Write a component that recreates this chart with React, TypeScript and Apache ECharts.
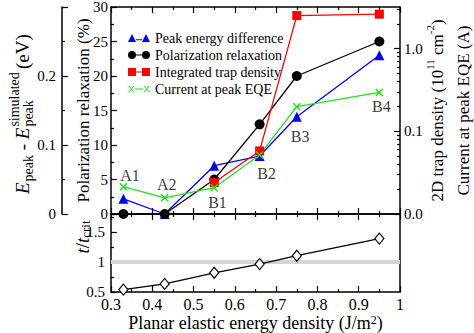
import React, { useEffect, useRef } from 'react';
import * as echarts from 'echarts';

const FONT = 'Liberation Serif';

// Planar elastic energy density (J/m^2) of the samples
const energyDensity = [0.33, 0.43, 0.55, 0.66, 0.75, 0.95];
// Peak energy difference (eV) — outer left axis
const peakEnergyDifference = [0.022, 0, 0.07, 0.084, 0.141, 0.23];
// Polarization relaxation (%) — main left axis
const polarizationRelaxation = [0, 0, 5, 13, 20, 25];
// Integrated 2D trap density (1e11 cm^-2) — right log axis
const integratedTrapDensity: (number | null)[] = [null, null, 0.024, 0.058, 2.52, 2.62];
// Current at peak EQE (A) — right log axis
const currentAtPeakEQE = [0.0214, 0.0157, 0.0208, 0.0518, 0.199, 0.296];
// t / t_crit — lower panel
const thicknessRatio = [0.54, 0.635, 0.82, 0.965, 1.105, 1.39];
const criticalRatio = 1;

const sampleNames = ['A1', 'A2', 'B1', 'B2', 'B3', 'B4'];
const sampleLabelX = [0.346, 0.435, 0.558, 0.677, 0.758, 0.955];
const sampleLabelY = [5.65, 4.3, 1.6, 5.9, 11.3, 15.65];

const seriesNames = [
  'Peak energy difference',
  'Polarization relaxation',
  'Integrated trap density',
  'Current at peak EQE',
];
const seriesColors = ['#0000ee', '#000000', '#ff0000', '#22dd22'];

const legendIcons = [
  'path://M0,8L4,0L8,8Z M8,5.2H14V6.2H8Z M14,8L18,0L22,8Z',
  'path://M0,4A4,4,0,1,1,8,4A4,4,0,1,1,0,4Z M8,3.5H14V4.5H8Z M14,4A4,4,0,1,1,22,4A4,4,0,1,1,14,4Z',
  'path://M0,0H8V8H0Z M8,3.5H14V4.5H8Z M14,0H22V8H14Z',
  'path://M1,1L2,1L7,7L6,7Z M6,1L7,1L2,7L1,7Z M7,3.5H15V4.5H7Z M15,1L16,1L21,7L20,7Z M20,1L21,1L16,7L15,7Z',
];

const LOG_MIN = 0.01;
const LOG_MAX = 3.2;
const logMinorTicks: number[] = [];
for (let d = -2; d <= 0; d++) {
  for (let k = 2; k <= 9; k++) {
    const v = k * Math.pow(10, d);
    if (v <= LOG_MAX) logMinorTicks.push(Math.log10(v));
  }
}

const pairs = (ys: (number | null)[]) =>
  energyDensity.map((x, i) => [x, ys[i] == null ? '-' : ys[i]]);

const axisLine = { show: true, onZero: false, lineStyle: { color: '#000', width: 1.5 } };
const tick = { show: true, inside: true, length: 6, lineStyle: { color: '#000', width: 1.2 } };
const minor = { show: true, splitNumber: 2, length: 3, lineStyle: { color: '#000', width: 1.2 } };
const lbl = { color: '#000', fontFamily: FONT, fontSize: 15 };

export default function App() {
  const ref = useRef<HTMLDivElement>(null);
  useEffect(() => {
    if (!ref.current) return;
    const chart = echarts.init(ref.current, undefined, { renderer: 'svg' });
    const xBase = {
      type: 'value',
      min: 0.3,
      max: 1,
      interval: 0.1,
      axisLine,
      axisTick: tick,
      minorTick: minor,
      splitLine: { show: false },
    };
    const option: any = {
      animation: false,
      backgroundColor: '#fff',
      textStyle: { fontFamily: FONT },
      grid: [
        { left: 111, right: 74, top: 7, height: 207, containLabel: false, outerBoundsMode: 'none' },
        { left: 111, right: 74, top: 214, height: 78, containLabel: false, outerBoundsMode: 'none' },
      ],
      legend: {
        orient: 'vertical',
        left: 123,
        top: 26,
        itemWidth: 22,
        itemHeight: 8,
        itemGap: 3,
        selectedMode: false,
        itemStyle: { borderWidth: 0 },
        textStyle: { color: '#000', fontFamily: FONT, fontSize: 14 },
        data: seriesNames.map((n, i) => ({ name: n, icon: legendIcons[i] })),
      },
      xAxis: [
        { ...xBase, gridIndex: 0, position: 'bottom', axisLabel: { show: false } },
        { ...xBase, gridIndex: 0, position: 'top', axisLabel: { show: false } },
        {
          ...xBase,
          gridIndex: 1,
          position: 'bottom',
          axisLabel: { ...lbl, fontSize: 16, margin: 7, lineHeight: 10, showMinLabel: true },
          name: 'Planar elastic energy density (J/m{sup|2})',
          nameLocation: 'middle',
          nameGap: 22,
          nameMoveOverlap: false,
          nameTextStyle: {
            color: '#000',
            fontFamily: FONT,
            fontSize: 18,
            rich: { sup: { fontFamily: FONT, fontSize: 12, verticalAlign: 'top', color: '#000' } },
          },
        },
        { ...xBase, gridIndex: 1, position: 'top', axisLabel: { show: false } },
      ],
      yAxis: [
        {
          type: 'value',
          gridIndex: 0,
          position: 'left',
          min: 0,
          max: 30,
          interval: 5,
          axisLine,
          axisTick: tick,
          minorTick: minor,
          splitLine: { show: false },
          axisLabel: { ...lbl, margin: 3 },
          name: 'Polarization relaxation (%)',
          nameLocation: 'middle',
          nameRotate: 90,
          nameGap: 19,
          nameMoveOverlap: false,
          nameTextStyle: { color: '#000', fontFamily: FONT, fontSize: 17 },
        },
        {
          type: 'value',
          gridIndex: 0,
          position: 'left',
          offset: 49,
          min: 0,
          max: 0.3,
          interval: 0.1,
          axisLine,
          axisTick: tick,
          minorTick: minor,
          splitLine: { show: false },
          axisLabel: { ...lbl, margin: 6, showMaxLabel: false },
        },
        {
          type: 'log',
          logBase: 10,
          gridIndex: 0,
          position: 'right',
          min: LOG_MIN,
          max: LOG_MAX,
          axisLine,
          axisTick: tick,
          splitLine: { show: false },
          axisLabel: {
            ...lbl,
            margin: 4,
            showMaxLabel: false,
            formatter: (v: number) => v.toFixed(1),
          },
          name: '2D trap density (10{sup|11} cm{sup|-2})\nCurrent at peak EQE (A)',
          nameLocation: 'middle',
          nameRotate: 90,
          nameGap: 24,
          nameMoveOverlap: false,
          nameTextStyle: {
            color: '#000',
            fontFamily: FONT,
            fontSize: 17,
            lineHeight: 26,
            rich: {
              sup: { fontFamily: FONT, fontSize: 11, verticalAlign: 'top', color: '#000', lineHeight: 26 },
            },
          },
        },
        {
          type: 'value',
          gridIndex: 1,
          position: 'left',
          min: 0.5,
          max: 1.8,
          interval: 0.5,
          axisLine,
          axisTick: tick,
          minorTick: minor,
          splitLine: { show: false },
          axisLabel: { ...lbl, margin: 6, lineHeight: 10, showMaxLabel: false, showMinLabel: true },
          name: '{i|t}/{i|t}{s|crit}',
          nameLocation: 'middle',
          nameRotate: 90,
          nameGap: 19,
          nameMoveOverlap: false,
          nameTextStyle: {
            color: '#000',
            fontFamily: FONT,
            fontSize: 19,
            padding: [0, 0, 0, 32],
            rich: {
              i: { fontFamily: FONT, fontSize: 19, fontStyle: 'italic', color: '#000' },
              s: { fontFamily: FONT, fontSize: 13, verticalAlign: 'bottom', color: '#000' },
            },
          },
        },
        {
          type: 'value',
          gridIndex: 1,
          position: 'right',
          min: 0.5,
          max: 1.8,
          axisLine,
          axisTick: { show: false },
          axisLabel: { show: false },
          splitLine: { show: false },
        },
        {
          type: 'value',
          gridIndex: 0,
          position: 'right',
          min: Math.log10(LOG_MIN),
          max: Math.log10(LOG_MAX),
          axisLine: { show: false, onZero: false },
          axisTick: { show: true, inside: true, length: 3, customValues: logMinorTicks, lineStyle: { color: '#000', width: 1.2 } },
          axisLabel: { show: false },
          splitLine: { show: false },
        },
      ],
      series: [
        {
          name: seriesNames[0],
          type: 'line',
          xAxisIndex: 0,
          yAxisIndex: 1,
          data: pairs(peakEnergyDifference),
          symbol: 'triangle',
          symbolSize: 10,
          itemStyle: { color: seriesColors[0] },
          lineStyle: { color: seriesColors[0], width: 1.3 },
        },
        {
          name: seriesNames[1],
          type: 'line',
          xAxisIndex: 0,
          yAxisIndex: 0,
          data: pairs(polarizationRelaxation),
          symbol: 'circle',
          symbolSize: 10,
          itemStyle: { color: seriesColors[1] },
          lineStyle: { color: seriesColors[1], width: 1.3 },
        },
        {
          name: seriesNames[2],
          type: 'line',
          xAxisIndex: 0,
          yAxisIndex: 2,
          data: pairs(integratedTrapDensity),
          symbol: 'rect',
          symbolSize: 9,
          itemStyle: { color: seriesColors[2] },
          lineStyle: { color: seriesColors[2], width: 1.3 },
        },
        {
          name: seriesNames[3],
          type: 'line',
          xAxisIndex: 0,
          yAxisIndex: 2,
          data: pairs(currentAtPeakEQE),
          symbol: 'path://M0,0L10,10M10,0L0,10',
          symbolSize: 7,
          itemStyle: { color: seriesColors[3], borderColor: seriesColors[3], borderWidth: 1.5 },
          lineStyle: { color: seriesColors[3], width: 1.3 },
        },
        {
          name: 'samples',
          type: 'scatter',
          xAxisIndex: 0,
          yAxisIndex: 0,
          symbolSize: 1,
          itemStyle: { color: 'transparent' },
          silent: true,
          z: 10,
          label: {
            show: true,
            position: 'inside',
            formatter: '{b}',
            color: '#000',
            fontFamily: FONT,
            fontSize: 16,
          },
          data: sampleNames.map((n, i) => ({ name: n, value: [sampleLabelX[i], sampleLabelY[i]] })),
        },
        {
          name: 't/tcrit',
          type: 'line',
          xAxisIndex: 2,
          yAxisIndex: 3,
          data: pairs(thicknessRatio),
          symbol: 'diamond',
          symbolSize: [9, 11],
          itemStyle: { color: '#fff', borderColor: '#000', borderWidth: 1.2 },
          lineStyle: { color: '#000', width: 1.3 },
          z: 3,
          markLine: {
            silent: true,
            symbol: 'none',
            z: 1,
            label: { show: false },
            lineStyle: { color: '#d4d4d4', width: 4, type: 'solid' },
            data: [{ yAxis: criticalRatio }],
          },
        },
      ],
      graphic: [
        {
          type: 'group',
          x: 22,
          y: 194,
          rotation: Math.PI / 2,
          children: [
            { type: 'text', style: { text: 'E', x: 0, y: 0, fontSize: 19, fontStyle: 'italic', fontFamily: FONT, fill: '#000', verticalAlign: 'middle', textVerticalAlign: 'middle' } },
            { type: 'text', style: { text: 'peak', x: 12.6, y: 6, fontSize: 14, fontFamily: FONT, fill: '#000', verticalAlign: 'middle', textVerticalAlign: 'middle' } },
            { type: 'text', style: { text: ' - ', x: 39, y: 0, fontSize: 19, fontFamily: FONT, fill: '#000', verticalAlign: 'middle', textVerticalAlign: 'middle' } },
            { type: 'text', style: { text: 'E', x: 54.8, y: 0, fontSize: 19, fontStyle: 'italic', fontFamily: FONT, fill: '#000', verticalAlign: 'middle', textVerticalAlign: 'middle' } },
            { type: 'text', style: { text: 'simulated', x: 67.4, y: -8, fontSize: 14, fontFamily: FONT, fill: '#000', verticalAlign: 'middle', textVerticalAlign: 'middle' } },
            { type: 'text', style: { text: 'peak', x: 67.4, y: 6, fontSize: 14, fontFamily: FONT, fill: '#000', verticalAlign: 'middle', textVerticalAlign: 'middle' } },
            { type: 'text', style: { text: '(eV)', x: 125, y: 0, fontSize: 19, fontFamily: FONT, fill: '#000', verticalAlign: 'middle', textVerticalAlign: 'middle' } },
          ],
        },
      ],
    };
    chart.setOption(option);
    return () => chart.dispose();
  }, []);
  return (
    <div
      ref={ref}
      style={{ position: 'fixed', left: 0, top: 0, width: 474, height: 333, background: '#fff' }}
    />
  );
}
